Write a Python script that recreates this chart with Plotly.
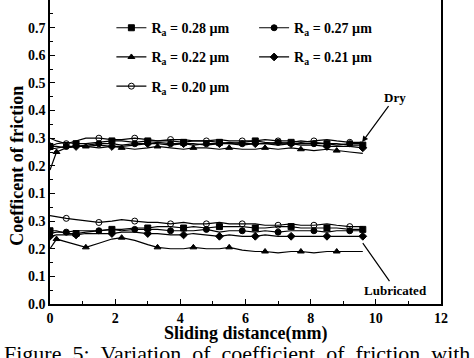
import plotly.graph_objects as go

# Sliding distance (mm)
distance = [0, 0.2, 0.5, 0.8, 1.1, 1.5, 1.9, 2.2, 2.6, 3.0, 3.3, 3.7, 4.1, 4.4,
            4.8, 5.2, 5.5, 5.9, 6.3, 6.6, 7.0, 7.4, 7.7, 8.1, 8.5, 8.8, 9.2, 9.6]

series_names = ["R<sub>a</sub> = 0.28 µm", "R<sub>a</sub> = 0.27 µm", "R<sub>a</sub> = 0.22 µm",
                "R<sub>a</sub> = 0.21 µm", "R<sub>a</sub> = 0.20 µm"]

# Dry condition coefficient of friction
dry_028 = [0.27, 0.28, 0.285, 0.28, 0.28, 0.285, 0.29, 0.29, 0.285, 0.29, 0.29, 0.29, 0.285, 0.29,
           0.29, 0.285, 0.28, 0.285, 0.29, 0.285, 0.28, 0.285, 0.29, 0.285, 0.28, 0.28, 0.275, 0.275]
dry_027 = [0.26, 0.265, 0.27, 0.27, 0.275, 0.28, 0.28, 0.275, 0.28, 0.28, 0.285, 0.28, 0.28, 0.275,
           0.28, 0.28, 0.285, 0.28, 0.28, 0.28, 0.285, 0.28, 0.28, 0.28, 0.28, 0.275, 0.28, 0.28]
dry_022 = [0.185, 0.25, 0.265, 0.27, 0.27, 0.265, 0.27, 0.265, 0.26, 0.265, 0.27, 0.265, 0.26, 0.265,
           0.265, 0.26, 0.265, 0.26, 0.26, 0.265, 0.26, 0.265, 0.26, 0.255, 0.26, 0.255, 0.25, 0.245]
dry_021 = [0.27, 0.27, 0.265, 0.27, 0.27, 0.275, 0.27, 0.27, 0.275, 0.28, 0.28, 0.275, 0.28, 0.28,
           0.275, 0.28, 0.28, 0.275, 0.28, 0.28, 0.275, 0.28, 0.275, 0.275, 0.27, 0.27, 0.27, 0.265]
dry_020 = [0.30, 0.29, 0.28, 0.29, 0.30, 0.30, 0.295, 0.295, 0.30, 0.295, 0.29, 0.295, 0.295, 0.29,
           0.29, 0.295, 0.29, 0.29, 0.29, 0.295, 0.29, 0.29, 0.285, 0.29, 0.295, 0.29, 0.285, 0.285]

# Lubricated condition coefficient of friction
lub_028 = [0.265, 0.265, 0.255, 0.255, 0.26, 0.265, 0.27, 0.27, 0.275, 0.275, 0.28, 0.28, 0.275, 0.28,
           0.275, 0.28, 0.28, 0.28, 0.275, 0.275, 0.28, 0.28, 0.275, 0.275, 0.275, 0.275, 0.27, 0.27]
lub_027 = [0.255, 0.26, 0.26, 0.265, 0.265, 0.265, 0.27, 0.265, 0.27, 0.27, 0.27, 0.265, 0.265, 0.265,
           0.27, 0.26, 0.265, 0.265, 0.26, 0.265, 0.26, 0.265, 0.265, 0.265, 0.26, 0.265, 0.265, 0.265]
lub_022 = [0.20, 0.235, 0.225, 0.215, 0.205, 0.22, 0.235, 0.24, 0.23, 0.215, 0.205, 0.20, 0.20, 0.205,
           0.20, 0.20, 0.205, 0.195, 0.19, 0.19, 0.185, 0.19, 0.19, 0.185, 0.19, 0.19, 0.19, 0.19]
lub_021 = [0.245, 0.25, 0.25, 0.25, 0.255, 0.255, 0.255, 0.26, 0.26, 0.255, 0.255, 0.25, 0.25, 0.255,
           0.25, 0.245, 0.25, 0.245, 0.245, 0.25, 0.245, 0.245, 0.245, 0.245, 0.245, 0.245, 0.245, 0.245]
lub_020 = [0.32, 0.315, 0.31, 0.305, 0.30, 0.295, 0.30, 0.305, 0.30, 0.295, 0.295, 0.29, 0.295, 0.29,
           0.29, 0.295, 0.29, 0.29, 0.29, 0.285, 0.285, 0.29, 0.285, 0.285, 0.29, 0.285, 0.28, 0.28]

# Broken axis tick labels: lower segment (lubricated) and upper segment (dry)
lower_tick_labels = ["0.0", "0.1", "0.2", "0.3"]
upper_tick_labels = ["0.1", "0.2", "0.3", "0.4", "0.5", "0.6", "0.7"]
x_tick_labels = ["0", "2", "4", "6", "8", "10", "12"]

FONT = "Liberation Serif"
symbols = ["square", "circle", "triangle-up", "diamond", "circle-open"]
legends = ["legend", "legend2", "legend", "legend2", "legend"]
dry_sets = [dry_028, dry_027, dry_022, dry_021, dry_020]
lub_sets = [lub_028, lub_027, lub_022, lub_021, lub_020]

fig = go.Figure()
for i, name in enumerate(series_names):
    mk = dict(symbol=symbols[i], size=6, color="black", maxdisplayed=10,
              line=dict(color="black", width=1))
    fig.add_trace(go.Scatter(x=distance, y=lub_sets[i], mode="lines+markers", name=name,
                             line=dict(color="black", width=1.2), marker=mk,
                             legend=legends[i], legendgroup=str(i), yaxis="y"))
    fig.add_trace(go.Scatter(x=distance, y=dry_sets[i], mode="lines+markers", name=name,
                             line=dict(color="black", width=1.2), marker=mk,
                             legend=legends[i], legendgroup=str(i), showlegend=False, yaxis="y2"))

lower_vals = [k / 10 for k in range(4)]
upper_vals = [0.4 + k / 10 for k in range(7)]
tickfont = dict(family=FONT, size=14, color="black", weight="bold")
NB = "\u00a0"
caption = "Figure 5: Variation of coefficient of friction with".replace(" ", " " + NB)

fig.update_layout(
    width=474, height=358,
    margin=dict(l=50, r=33, t=0, b=54),
    paper_bgcolor="white", plot_bgcolor="white",
    showlegend=True,
    xaxis=dict(range=[0, 12], tickvals=[0, 2, 4, 6, 8, 10, 12], ticktext=x_tick_labels,
               ticks="inside", ticklen=5, tickwidth=1.2, tickcolor="black",
               minor=dict(ticks="inside", ticklen=3, tickwidth=1, tickcolor="black", dtick=1, tick0=0),
               showline=True, linecolor="black", linewidth=1.5, showgrid=False, zeroline=False,
               tickfont=tickfont),
    yaxis=dict(range=[0, 1.1], tickvals=lower_vals + upper_vals,
               ticktext=lower_tick_labels + upper_tick_labels,
               ticks="inside", ticklen=5, tickwidth=1.2, tickcolor="black",
               minor=dict(ticks="inside", ticklen=3, tickwidth=1, tickcolor="black", dtick=0.05, tick0=0),
               showline=True, mirror=True, linecolor="black", linewidth=1.5,
               showgrid=False, zeroline=False, tickfont=tickfont),
    yaxis2=dict(range=[-0.3, 0.8], overlaying="y", visible=False),
    legend=dict(x=0.157, y=0.96, xanchor="left", yanchor="top", bgcolor="rgba(0,0,0,0)",
                font=dict(family=FONT, size=14, color="black", weight="bold"), tracegroupgap=8),
    legend2=dict(x=0.522, y=0.96, xanchor="left", yanchor="top", bgcolor="rgba(0,0,0,0)",
                 font=dict(family=FONT, size=14, color="black", weight="bold"), tracegroupgap=8),
    annotations=[
        dict(text="Coefficent of friction", xref="paper", yref="paper", x=-0.085, y=0.454,
             xanchor="center", yanchor="middle",
             textangle=-90, showarrow=False, font=dict(family=FONT, size=18, color="black", weight="bold")),
        dict(text="Sliding distance(mm)", xref="paper", yref="paper", x=0.5, y=-0.097,
             xanchor="center", yanchor="middle",
             showarrow=False, font=dict(family=FONT, size=18, color="black", weight="bold")),
        dict(text=caption, xref="paper", yref="paper",
             x=0.478, y=-0.115, xanchor="center", yanchor="top", showarrow=False,
             font=dict(family=FONT, size=22, color="black")),
        dict(text="Dry", xref="x", yref="y", x=9.58, y=0.586, ax=33, ay=-45,
             showarrow=True, arrowhead=2, arrowsize=1, arrowwidth=1.2, arrowcolor="black",
             font=dict(family=FONT, size=13, color="black", weight="bold")),
        dict(text="Lubricated", xref="x", yref="y", x=9.6, y=0.22, ax=33, ay=47,
             showarrow=True, arrowhead=0, arrowwidth=1.2, arrowcolor="black",
             font=dict(family=FONT, size=13, color="black", weight="bold")),
    ],
)

fig.write_html("out.html", config={"displayModeBar": False},
               post_script="document.body.style.margin='0';")
